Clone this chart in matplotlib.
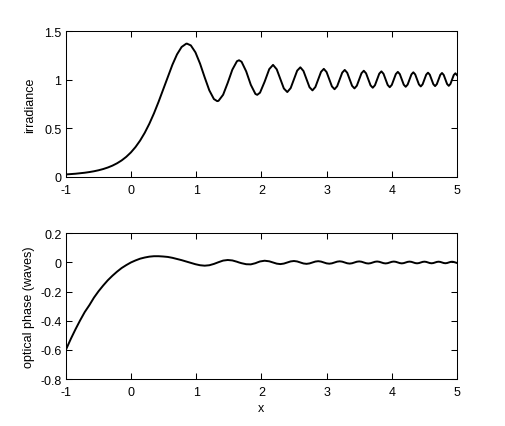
import matplotlib
matplotlib.use("Agg")
import matplotlib.pyplot as plt

plt.rcParams['font.family'] = ['Liberation Sans', 'DejaVu Sans']
plt.rcParams['axes.unicode_minus'] = False

# sample positions (x) and values
x_vals = [
    -1.0, -0.9899, -0.9192, -0.8485, -0.7778, -0.7071, -0.6364, -0.5657, -0.4950, -0.4243,
    -0.3536, -0.2828, -0.2121, -0.1414, -0.0707, 0.0, 0.0707, 0.1414, 0.2121, 0.2828,
    0.3536, 0.4243, 0.4950, 0.5657, 0.6364, 0.7071, 0.7778, 0.8485, 0.8606, 0.9192, 0.9899,
    1.0607, 1.1314, 1.2021, 1.2728, 1.3236, 1.3435, 1.4142, 1.4849, 1.5556, 1.6263, 1.6583, 1.6971,
    1.7678, 1.8385, 1.9092, 1.9367, 1.9799, 2.0506, 2.1213,
    2.1794, 2.2361, 2.2913, 2.3452, 2.3979, 2.4495, 2.5000, 2.5495, 2.5981, 2.6458,
    2.6926, 2.7386, 2.7839, 2.8284, 2.8723, 2.9155, 2.9580, 3.0000, 3.0414, 3.0822,
    3.1225, 3.1623, 3.2016, 3.2404, 3.2787, 3.3166, 3.3541, 3.3912, 3.4278, 3.4641,
    3.5000, 3.5355, 3.5707, 3.6056, 3.6401, 3.6742, 3.7081, 3.7417, 3.7749, 3.8079,
    3.8406, 3.8730, 3.9051, 3.9370, 3.9686, 4.0000, 4.0311, 4.0620, 4.0927, 4.1231,
    4.1533, 4.1833, 4.2131, 4.2426, 4.2720, 4.3012, 4.3301, 4.3589, 4.3875, 4.4159,
    4.4441, 4.4721, 4.5000, 4.5277, 4.5552, 4.5826, 4.6098, 4.6368, 4.6637, 4.6904,
    4.7170, 4.7434, 4.7697, 4.7958, 4.8218, 4.8477, 4.8734, 4.8990, 4.9244, 4.9497,
    4.9749, 5.0,
]

irradiance = [
    0.0228, 0.0237, 0.0270, 0.0308, 0.0355, 0.0411, 0.0479, 0.0562, 0.0665, 0.0791,
    0.0948, 0.1141, 0.1382, 0.1679, 0.2048, 0.2500, 0.3053, 0.3720, 0.4517, 0.5450,
    0.6518, 0.7707, 0.8983, 1.0283, 1.1525, 1.2593, 1.3358, 1.3696, 1.3700, 1.3519, 1.2803,
    1.1638, 1.0231, 0.8897, 0.7996, 0.7781, 0.7813, 0.8439, 0.9671, 1.1023, 1.1892, 1.1990, 1.1834,
    1.0846, 0.9464, 0.8523, 0.8430, 0.8654, 0.9785, 1.1077,
    1.1514, 1.1057, 1.0048, 0.9086, 0.8717, 0.9123, 1.0041, 1.0922, 1.1263, 1.0887,
    1.0035, 0.9212, 0.8889, 0.9236, 1.0031, 1.0802, 1.1105, 1.0778, 1.0027, 0.9296,
    0.9007, 0.9314, 1.0025, 1.0719, 1.0994, 1.0702, 1.0023, 0.9358, 0.9093, 0.9371,
    1.0021, 1.0657, 1.0911, 1.0644, 1.0019, 0.9406, 0.9160, 0.9417, 1.0018, 1.0609,
    1.0846, 1.0598, 1.0017, 0.9445, 0.9214, 0.9453, 1.0016, 1.0570, 1.0793, 1.0561,
    1.0015, 0.9476, 0.9259, 0.9484, 1.0014, 1.0537, 1.0749, 1.0530, 1.0013, 0.9503,
    0.9297, 0.9509, 1.0013, 1.0510, 1.0711, 1.0503, 1.0012, 0.9526, 0.9329, 0.9532,
    1.0011, 1.0486, 1.0679, 1.0480, 1.0011, 0.9546, 0.9357, 0.9551, 1.0010, 1.0465,
    1.0650, 1.0460,
]

phase = [
    -0.603, -0.593, -0.523, -0.458, -0.397, -0.340, -0.293, -0.241, -0.197, -0.158,
    -0.122, -0.091, -0.063, -0.038, -0.018, 0.000, 0.014, 0.026, 0.034, 0.040,
    0.043, 0.043, 0.041, 0.038, 0.032, 0.024, 0.016, 0.006, 0.005, -0.003, -0.012,
    -0.019, -0.022, -0.019, -0.010, -0.001, 0.002, 0.013, 0.017, 0.014, 0.005, 0.000, -0.005,
    -0.012, -0.013, -0.005, 0.000, 0.007, 0.012, 0.008,
    0.0, -0.0080, -0.0111, -0.0076, 0.0, 0.0073, 0.0101, 0.0070, 0.0, -0.0068,
    -0.0094, -0.0065, 0.0, 0.0063, 0.0088, 0.0061, 0.0, -0.0060, -0.0083, -0.0058,
    0.0, 0.0057, 0.0079, 0.0055, 0.0, -0.0054, -0.0076, -0.0053, 0.0, 0.0052,
    0.0072, 0.0051, 0.0, -0.0050, -0.0070, -0.0049, 0.0, 0.0048, 0.0067, 0.0047,
    0.0, -0.0046, -0.0065, -0.0046, 0.0, 0.0045, 0.0063, 0.0044, 0.0, -0.0043,
    -0.0061, -0.0043, 0.0, 0.0042, 0.0059, 0.0042, 0.0, -0.0041, -0.0058, -0.0041,
    0.0, 0.0040, 0.0056, 0.0040, 0.0, -0.0039, -0.0055, -0.0039, 0.0, 0.0038,
    0.0054, 0.0038, 0.0, -0.0037, -0.0053, -0.0037, 0.0, 0.0037, 0.0051, 0.0036,
    0.0, -0.0036,
]

x_ticks = [-1, 0, 1, 2, 3, 4, 5]
x_ticklabels = ['-1', '0', '1', '2', '3', '4', '5']
irr_ticks = [0, 0.5, 1, 1.5]
irr_ticklabels = ['0', '0.5', '1', '1.5']
ph_ticks = [-0.8, -0.6, -0.4, -0.2, 0, 0.2]
ph_ticklabels = ['-0.8', '-0.6', '-0.4', '-0.2', '0', '0.2']

fig = plt.figure(figsize=(5.05, 4.27), dpi=100)
fs = 9

def style(ax):
    ax.tick_params(direction='in', top=True, right=True, length=4, width=0.75,
                   labelsize=fs, pad=3)
    ax.tick_params(axis='x', pad=5)
    for s in ax.spines.values():
        s.set_linewidth(0.75)

ax1 = fig.add_axes([0.13, 0.5838, 0.775, 0.3412])
ax1.plot(x_vals, irradiance, color='black', lw=1.4)
ax1.set_xlim(-1, 5)
ax1.set_ylim(0, 1.5)
ax1.set_xticks(x_ticks)
ax1.set_xticklabels(x_ticklabels)
ax1.set_yticks(irr_ticks)
ax1.set_yticklabels(irr_ticklabels)
ax1.set_ylabel('irradiance', fontsize=fs, labelpad=6)
style(ax1)

ax2 = fig.add_axes([0.13, 0.11, 0.775, 0.3412])
ax2.plot(x_vals, phase, color='black', lw=1.4)
ax2.set_xlim(-1, 5)
ax2.set_ylim(-0.8, 0.2)
ax2.set_xticks(x_ticks)
ax2.set_xticklabels(x_ticklabels)
ax2.set_yticks(ph_ticks)
ax2.set_yticklabels(ph_ticklabels)
ax2.set_ylabel('optical phase (waves)', fontsize=fs, labelpad=4)
ax2.set_xlabel('x', fontsize=fs, labelpad=3)
style(ax2)

fig.savefig('out.png', dpi=100, facecolor='white')
